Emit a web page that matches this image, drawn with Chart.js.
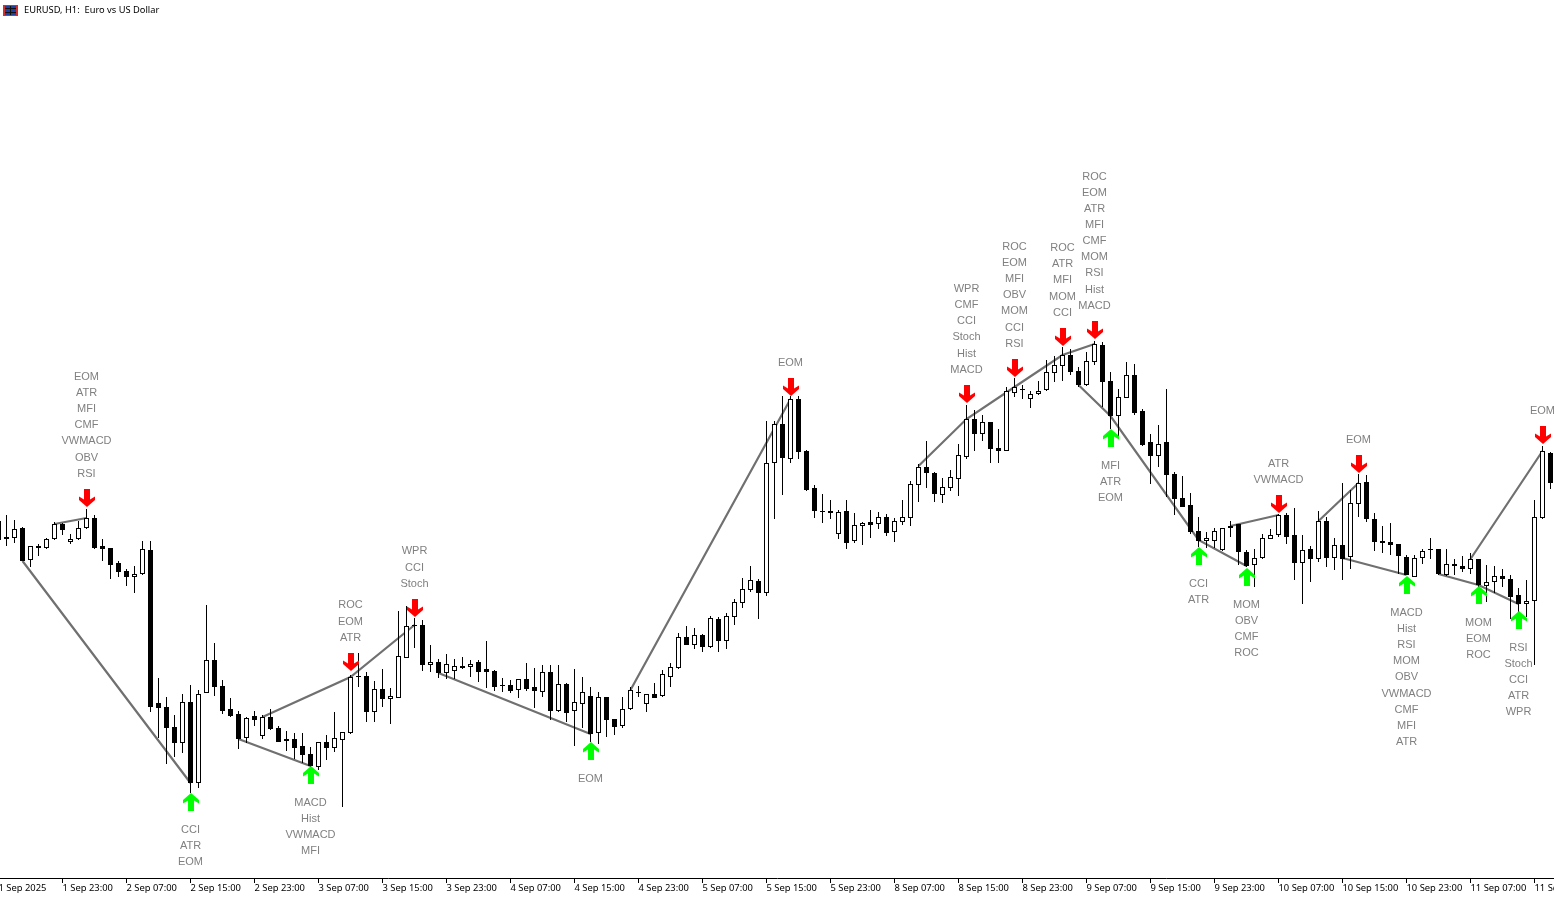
<!DOCTYPE html>
<html>
<head>
<meta charset="utf-8">
<title>EURUSD, H1</title>
<script src="https://cdn.jsdelivr.net/npm/chart.js@4/dist/chart.umd.js"></script>
<style>
  html, body { margin: 0; padding: 0; background: #fff; overflow: hidden; }
  #wrap { width: 1554px; height: 898px; }
</style>
</head>
<body>
<div id="wrap"><canvas id="myChart" width="1554" height="898"></canvas></div>
<script>
// prices are in points (1.17300 = 117300), one value per H1 candle
const opens = [117300,117305,117310,117360,117200,117270,117260,117305,117380,117290,117305,117360,117410,117270,117260,117185,117145,117115,117130,117250,116485,116465,116365,116285,116490,116085,116535,116700,116570,116455,116430,116310,116420,116320,116415,116360,116295,116305,116270,116230,116165,116290,116260,116300,116335,116620,116620,116440,116555,116505,116510,116710,116875,116875,116675,116690,116635,116645,116670,116665,116690,116655,116645,116575,116575,116550,116605,116565,116540,116640,116445,116580,116445,116480,116520,116335,116515,116405,116370,116455,116540,116480,116530,116520,116615,116660,116815,116775,116825,116765,116905,116795,116915,116985,117050,117095,117035,117685,117880,117705,118005,117745,117560,117445,117445,117330,117445,117295,117370,117390,117380,117415,117340,117390,117410,117575,117665,117635,117525,117560,117605,117715,117905,117830,117890,117760,117745,118035,118055,118005,118030,118050,118135,118170,118225,118145,118075,118190,118275,118095,117920,118010,118125,117945,117790,117720,117790,117630,117510,117475,117345,117295,117295,117250,117360,117380,117240,117175,117210,117305,117325,117425,117325,117185,117255,117205,117395,117210,117275,117215,117480,117590,117405,117295,117290,117280,117215,117115,117210,117255,117255,117125,117180,117170,117155,117205,117070,117090,117120,117105,117025,116980,116995,117410,117735];
const highs = [117400,117425,117400,117365,117270,117280,117310,117390,117385,117330,117395,117455,117425,117305,117260,117195,117155,117170,117295,117295,116610,116515,116425,116530,116575,116550,116975,116785,116600,116510,116445,116415,116445,116425,116455,116370,116345,116335,116335,116265,116290,116325,116440,116340,116625,116735,116640,116595,116655,116560,116945,116970,116910,116900,116775,116705,116730,116705,116715,116700,116700,116795,116650,116610,116600,116605,116685,116660,116675,116675,116675,116585,116655,116615,116565,116540,116515,116405,116515,116565,116570,116530,116585,116650,116685,116835,116870,116860,116830,116920,116915,116935,117005,117110,117170,117105,117895,117895,118020,118020,118020,117750,117575,117530,117500,117450,117500,117435,117390,117450,117440,117430,117410,117500,117595,117680,117795,117640,117610,117650,117780,117975,117950,117925,117890,117855,118065,118110,118075,118045,118095,118200,118220,118265,118255,118165,118240,118295,118290,118140,118055,118190,118180,117955,117830,117875,118055,117640,117620,117535,117415,117340,117360,117360,117395,117380,117250,117255,117330,117355,117430,117435,117460,117325,117270,117445,117415,117310,117585,117550,117630,117625,117435,117370,117385,117280,117225,117225,117255,117310,117255,117255,117205,117220,117235,117205,117175,117170,117155,117125,117060,117100,117500,117770,117740];
const lows = [117275,117270,117285,117195,117165,117220,117255,117300,117325,117280,117300,117355,117255,117195,117105,117115,117070,117035,117125,116440,116310,116180,116215,116235,116035,116060,116535,116520,116430,116415,116255,116285,116370,116305,116350,116290,116245,116205,116185,116165,116150,116200,116240,115965,116330,116565,116390,116390,116465,116380,116510,116710,116760,116645,116640,116610,116605,116605,116655,116615,116590,116560,116545,116540,116535,116510,116545,116460,116515,116400,116440,116390,116270,116360,116290,116280,116315,116325,116360,116450,116515,116440,116510,116515,116565,116655,116775,116755,116740,116760,116740,116755,116875,116960,117040,116905,117020,117405,117525,117685,117705,117545,117410,117385,117405,117305,117255,117285,117275,117310,117355,117320,117290,117375,117370,117490,117560,117490,117485,117545,117520,117705,117745,117795,117685,117685,117745,118015,118005,117960,118025,118045,118090,118095,118125,118065,118070,118175,117965,117855,117815,118010,117925,117770,117580,117665,117515,117425,117465,117330,117265,117260,117260,117245,117315,117175,117165,117065,117205,117305,117315,117280,117100,116980,117090,117190,117165,117150,117100,117155,117415,117390,117245,117235,117225,117130,117125,117115,117180,117205,117125,117120,117125,117140,117130,117065,116990,117035,117065,116905,116915,116915,116675,117405,117555];
const closes = [117395,117315,117355,117195,117270,117260,117305,117380,117350,117305,117360,117410,117260,117255,117175,117140,117115,117130,117255,116465,116460,116360,116285,116490,116085,116530,116700,116565,116445,116420,116305,116410,116400,116415,116355,116290,116305,116260,116225,116170,116290,116260,116310,116340,116615,116615,116440,116555,116505,116520,116720,116870,116870,116675,116690,116635,116680,116670,116660,116680,116640,116640,116565,116570,116545,116605,116555,116545,116640,116445,116580,116435,116490,116540,116330,116515,116400,116365,116455,116550,116535,116530,116510,116630,116665,116815,116775,116825,116765,116910,116795,116920,116990,117055,117100,117035,117685,117880,117710,118005,117740,117550,117445,117440,117435,117440,117285,117375,117385,117375,117415,117335,117395,117415,117580,117665,117635,117530,117565,117615,117725,117905,117830,117890,117755,117745,118045,118065,118050,118030,118045,118140,118175,118225,118140,118075,118195,118280,118090,117920,118015,118125,117935,117775,117720,117780,117625,117505,117465,117340,117295,117310,117345,117360,117370,117240,117170,117210,117310,117325,117425,117315,117185,117250,117205,117395,117210,117275,117205,117485,117585,117405,117290,117285,117275,117220,117125,117210,117245,117250,117130,117180,117170,117155,117205,117075,117090,117120,117105,117015,116980,116995,117415,117745,117585];
const tickLabels = ["1 Sep 2025","1 Sep 23:00","2 Sep 07:00","2 Sep 15:00","2 Sep 23:00","3 Sep 07:00","3 Sep 15:00","3 Sep 23:00","4 Sep 07:00","4 Sep 15:00","4 Sep 23:00","5 Sep 07:00","5 Sep 15:00","5 Sep 23:00","8 Sep 07:00","8 Sep 15:00","8 Sep 23:00","9 Sep 07:00","9 Sep 15:00","9 Sep 23:00","10 Sep 07:00","10 Sep 15:00","10 Sep 23:00","11 Sep 07:00","11 Sep 15:00"];

// zigzag legs, null ends a leg
const legIdx = [2,23,null,6,10,null,32,43,51,null,29,38,null,54,73,null,78,98,null,114,120,126,132,136,null,134,138,149,155,null,153,159,null,164,169,null,167,175,null,183,192,null,179,184,189];
const legPrice = [117195,116085,null,117380,117410,null,116415,116615,116875,null,116305,116170,null,116635,116330,null,116550,118005,null,117670,117905,118065,118225,118280,null,118075,117920,117300,117170,null,117370,117425,null,117395,117585,null,117210,117125,null,117205,117745,null,117130,117075,116980];

// sell and buy signals with the indicators that fired
const sellIdx = [10,43,51,98,120,126,132,136,159,169,192];
const sellPrice = [117510,116690,116960,118065,118030,118160,118315,118350,117480,117680,117825];
const sellNames = [
  ["EOM","ATR","MFI","CMF","VWMACD","OBV","RSI"],
  ["ROC","EOM","ATR"],
  ["WPR","CCI","Stoch"],
  ["EOM"],
  ["WPR","CMF","CCI","Stoch","Hist","MACD"],
  ["ROC","EOM","MFI","OBV","MOM","CCI","RSI"],
  ["ROC","ATR","MFI","MOM","CCI"],
  ["ROC","EOM","ATR","MFI","CMF","MOM","RSI","Hist","MACD"],
  ["ATR","VWMACD"],
  ["EOM"],
  ["EOM"]
];
const buyIdx = [23,38,73,138,149,155,175,184,189];
const buyPrice = [115990,116125,116245,117810,117220,117115,117075,117025,116900];
const buyNames = [
  ["CCI","ATR","EOM"],
  ["MACD","Hist","VWMACD","MFI"],
  ["EOM"],
  ["MFI","ATR","EOM"],
  ["CCI","ATR"],
  ["MOM","OBV","CMF","ROC"],
  ["MACD","Hist","RSI","MOM","OBV","VWMACD","CMF","MFI","ATR"],
  ["MOM","EOM","ROC"],
  ["RSI","Stoch","CCI","ATR","WPR"]
];

const tickFont = { family: "'Noto Sans'", size: 9.4 };
const signalFont = "11px 'Liberation Sans'";
const lineGap = 16.1;

function arrowCanvas(color, down) {
  const c = document.createElement("canvas");
  c.width = 17; c.height = 18;
  const g = c.getContext("2d");
  if (!down) { g.translate(0, 18); g.scale(1, -1); }
  g.fillStyle = color;
  g.beginPath();
  g.moveTo(6, 0); g.lineTo(12, 0); g.lineTo(12, 10.5);
  g.lineTo(17, 7.5); g.lineTo(17, 11); g.lineTo(9, 18);
  g.lineTo(1, 11); g.lineTo(1, 7.5); g.lineTo(6, 10.5);
  g.closePath();
  g.fill();
  return c;
}

const signalText = {
  id: "signalText",
  afterDatasetsDraw(chart) {
    const { ctx, scales: { x, y } } = chart;
    ctx.save();
    ctx.font = signalFont;
    ctx.fillStyle = "#808080";
    ctx.textAlign = "center";
    ctx.textBaseline = "middle";
    sellIdx.forEach((idx, s) => {
      const names = sellNames[s];
      names.forEach((n, k) => {
        ctx.fillText(n, x.getPixelForValue(idx), y.getPixelForValue(sellPrice[s]) - 24.4 - (names.length - 1 - k) * lineGap);
      });
    });
    buyIdx.forEach((idx, s) => {
      buyNames[s].forEach((n, k) => {
        ctx.fillText(n, x.getPixelForValue(idx), y.getPixelForValue(buyPrice[s]) + 28 + k * lineGap);
      });
    });
    ctx.restore();

    // symbol caption with the little chart icon
    ctx.save();
    ctx.fillStyle = "#d03030";
    ctx.fillRect(3, 5, 15, 11);
    ctx.fillStyle = "#1c3fa8";
    ctx.fillRect(5, 6, 11, 9);
    ctx.fillStyle = "#111";
    ctx.fillRect(5, 8, 11, 1);
    ctx.fillRect(5, 12, 11, 1);
    ctx.fillRect(10, 6, 1, 9);
    ctx.font = "9.3px 'Noto Sans'";
    ctx.fillStyle = "#000";
    ctx.textBaseline = "middle";
    ctx.textAlign = "left";
    ctx.fillText("EURUSD, H1:  Euro vs US Dollar", 24, 10.5);
    ctx.restore();
  }
};

const idx = opens.map((_, k) => k - 1);
const bodyColors = opens.map((o, k) => closes[k] >= o ? "#ffffff" : "#000000");

new Chart(document.getElementById("myChart"), {
  data: {
    datasets: [
      {
        type: "line",
        data: legIdx.map((v, k) => ({ x: v, y: legPrice[k] })),
        borderColor: "#707070",
        borderWidth: 2.2,
        pointRadius: 0,
        tension: 0,
        spanGaps: false,
        parsing: false,
        order: 4
      },
      {
        type: "bar",
        data: idx.map((v, k) => ({ x: v, y: [lows[k], highs[k]] })),
        backgroundColor: "#000000",
        borderWidth: 0,
        grouped: false,
        maxBarThickness: 1,
        inflateAmount: 0,
        order: 3
      },
      {
        type: "bar",
        data: idx.map((v, k) => ({ x: v, y: [opens[k], closes[k]] })),
        backgroundColor: bodyColors,
        borderColor: "#000000",
        borderWidth: 1,
        borderSkipped: false,
        grouped: false,
        maxBarThickness: 5,
        inflateAmount: 0,
        order: 2
      },
      {
        type: "scatter",
        data: sellIdx.map((v, k) => ({ x: v, y: sellPrice[k] })),
        pointStyle: arrowCanvas("#ff0000", true),
        order: 1
      },
      {
        type: "scatter",
        data: buyIdx.map((v, k) => ({ x: v, y: buyPrice[k] })),
        pointStyle: arrowCanvas("#00ff00", false),
        order: 1
      }
    ]
  },
  options: {
    responsive: false,
    animation: false,
    devicePixelRatio: 1,
    layout: { padding: 0, autoPadding: false },
    plugins: { legend: { display: false }, tooltip: { enabled: false } },
    scales: {
      x: {
        type: "linear",
        offset: false,
        min: -0.8125,
        max: 193.4375,
        afterBuildTicks: axis => { axis.ticks = tickLabels.map((_, k) => ({ value: k * 8 - 1 })); },
        afterFit: axis => {
          // no side padding, the labels may run off the canvas like the original
          axis.paddingLeft = 0;
          axis.paddingRight = 0;
          axis._margins = { left: 0, right: 0, top: 0, bottom: 0 };
          axis.width = 1554;
          axis.height = 20;
        },
        grid: { display: true, offset: false, drawOnChartArea: false, drawTicks: true, tickLength: 5, color: "#000000" },
        border: { display: true, color: "#000000", width: 1 },
        ticks: {
          autoSkip: false,
          maxRotation: 0,
          align: "start",
          padding: 0,
          color: "#000000",
          font: tickFont,
          callback: (value, k) => tickLabels[k]
        }
      },
      y: { type: "linear", display: false, min: 115610, max: 120000 }
    }
  },
  plugins: [signalText]
});
</script>
</body>
</html>
